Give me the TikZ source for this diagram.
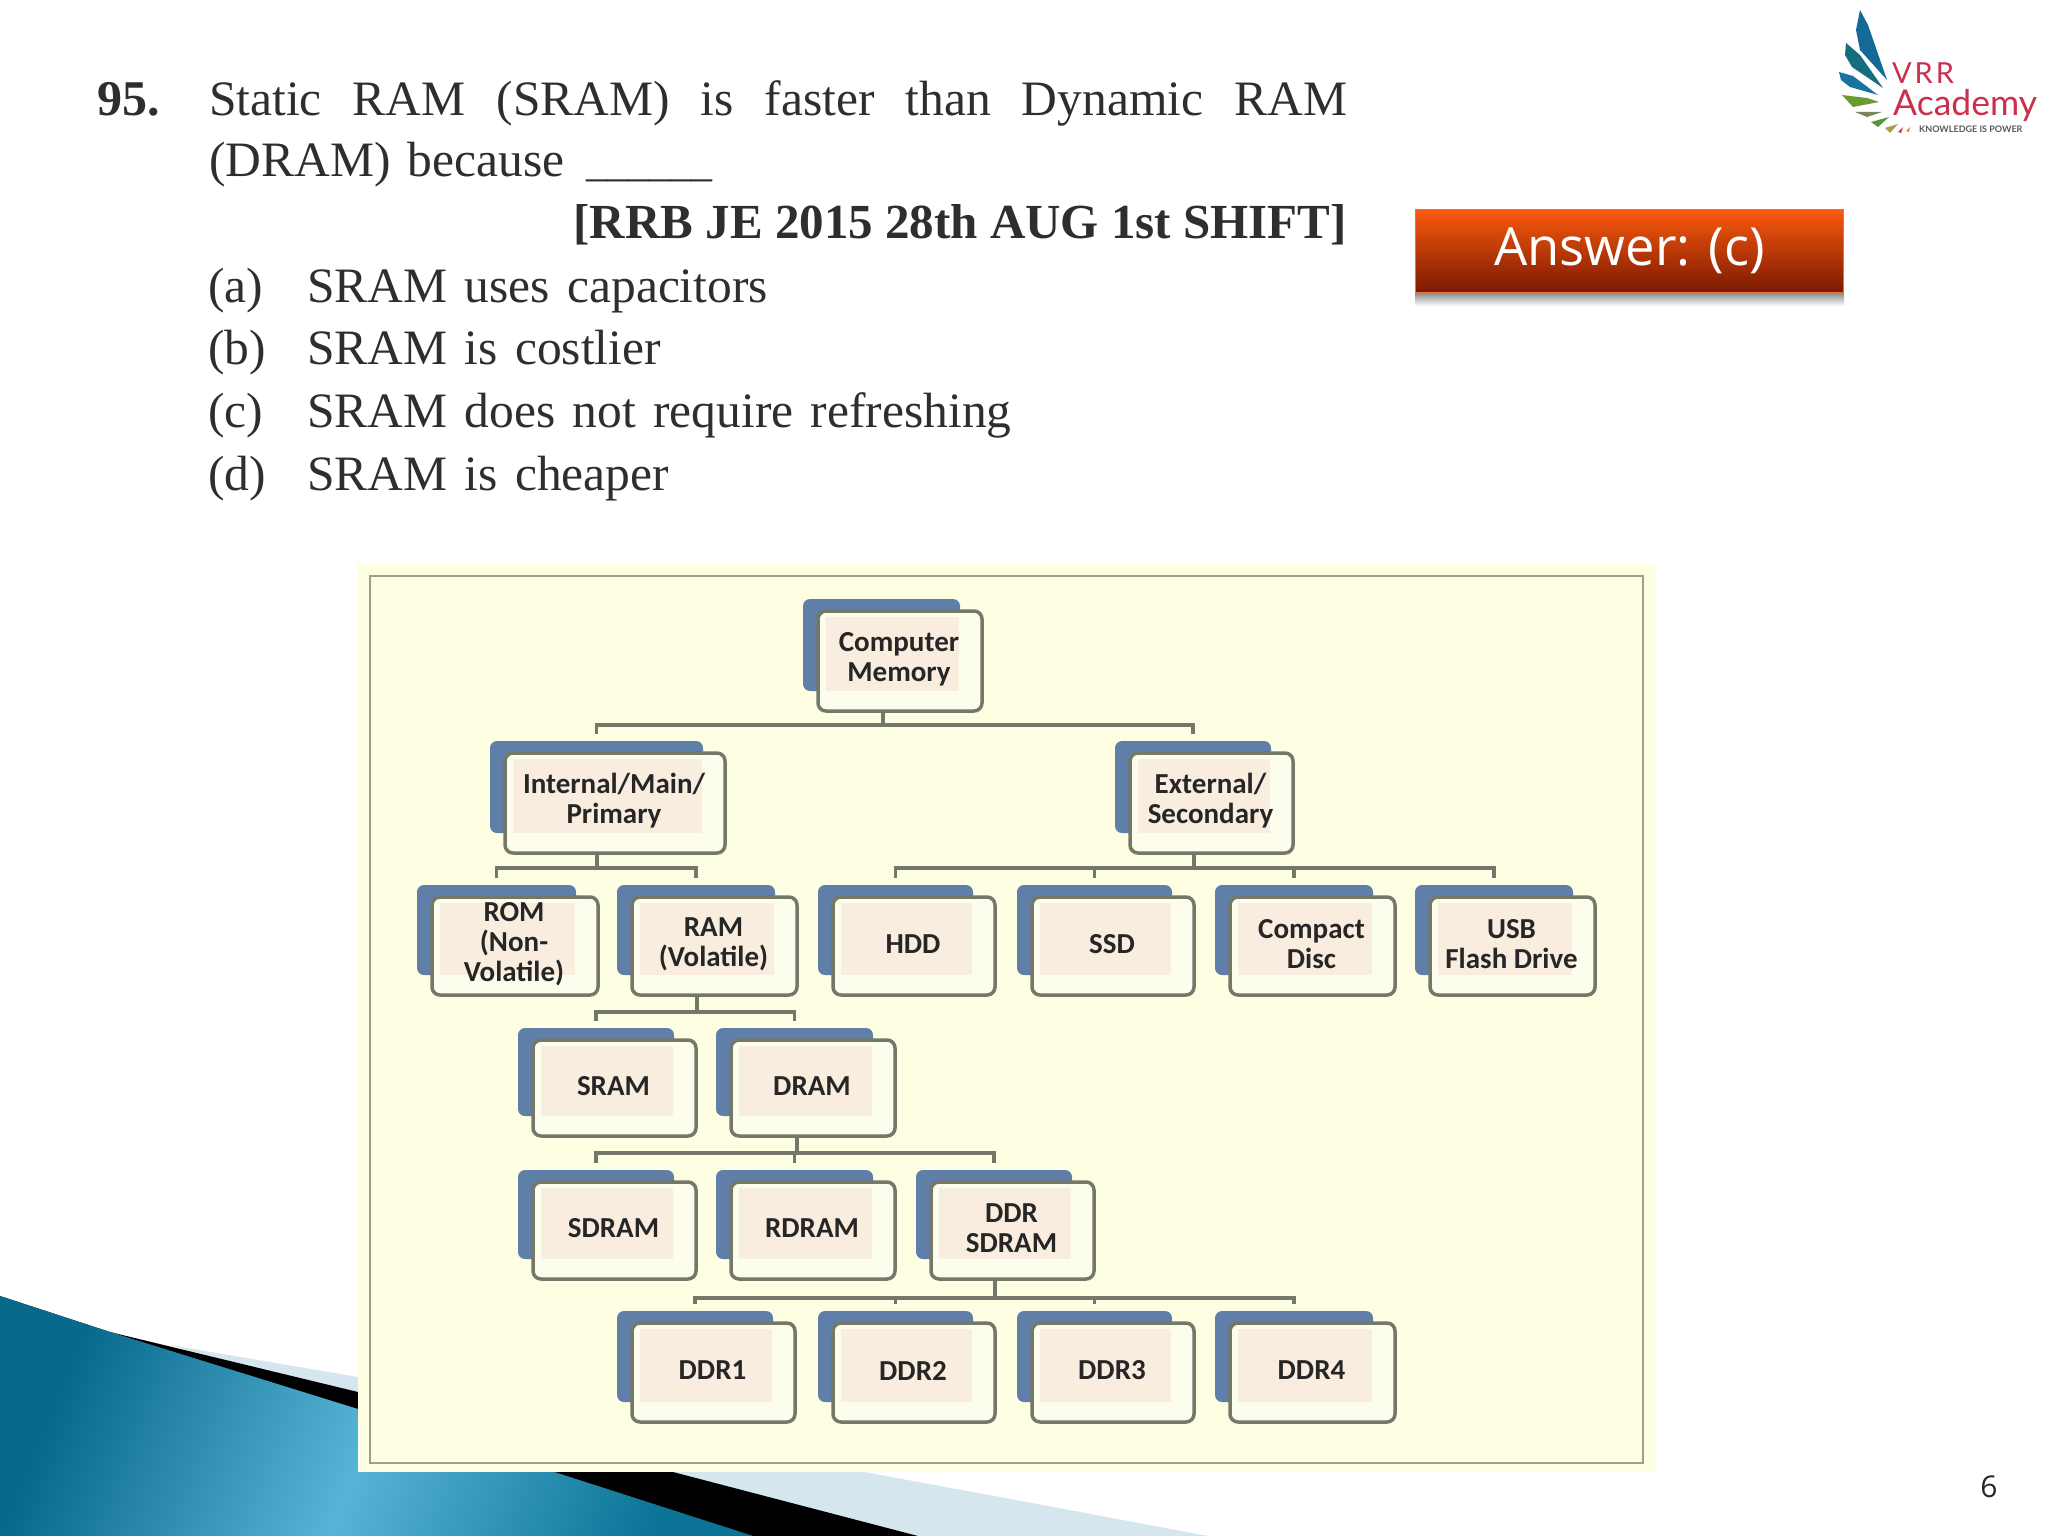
\documentclass[tikz,border=0pt]{standalone}
\usepackage{fontspec}
\setmainfont{Liberation Serif}
\newfontfamily\qfont[WordSpace=1.4]{Liberation Serif}
\newfontfamily\boxfont{Carlito}
\newfontfamily\ansfont{Open Sans}
\newfontfamily\logofont{Lato}
\newfontfamily\logospaced[LetterSpace=10]{Lato}
\definecolor{backblue}{HTML}{5F7FA8}
\definecolor{edgegray}{HTML}{747868}
\definecolor{peach}{HTML}{F9EDDF}
\definecolor{frontcol}{HTML}{FDFDEE}
\definecolor{panel}{HTML}{FEFEE2}
\definecolor{ink}{HTML}{2E2E2E}
\definecolor{logored}{HTML}{CC2F4C}
\definecolor{swlight}{RGB}{214,230,238}
\definecolor{swdark}{RGB}{8,105,140}
\definecolor{swmid}{RGB}{88,180,214}
\definecolor{swright}{RGB}{10,115,150}
\definecolor{ansedge}{RGB}{232,118,47}
\definecolor{anstop}{RGB}{250,90,14}
\definecolor{ansbot}{RGB}{122,24,0}
\definecolor{fa}{RGB}{20,105,150}
\definecolor{fb}{RGB}{20,110,125}
\definecolor{fc}{RGB}{25,115,160}
\definecolor{fd}{RGB}{105,155,50}
\definecolor{fe}{RGB}{120,135,95}
\definecolor{ff}{RGB}{90,150,60}
\definecolor{fg}{RGB}{170,160,70}
\definecolor{fh}{RGB}{220,130,50}
\tikzset{
  backbox/.style={fill=backblue,rounded corners=7pt,inner sep=0pt,outer sep=0pt},
  frontbox/.style={fill=frontcol,draw=edgegray,line width=3.5pt,rounded corners=8pt,inner sep=0pt,outer sep=0pt},
  peachbox/.style={fill=peach,inner sep=0pt,outer sep=0pt},
  boxtext/.style={align=center,text=black!85,font=\boxfont\bfseries\fontsize{29}{30}\selectfont,inner sep=0pt},
  conn/.style={draw=edgegray,line width=3.5pt},
  qtext/.style={anchor=base west,inner sep=0pt,text=ink,font=\qfont\fontsize{49.5}{52}\selectfont},
  qbold/.style={anchor=base west,inner sep=0pt,text=ink,font=\bfseries\fontsize{50}{52}\selectfont},
}
\newcommand{\membox}[6]{%
  \pgfmathsetmacro{\bw}{#4-#2-7}%
  \pgfmathsetmacro{\bh}{#5-#3-8}%
  \pgfmathsetmacro{\bx}{(#2-15+#4-22)/2}%
  \pgfmathsetmacro{\by}{(#3-12+#5-20)/2}%
  \node[backbox,minimum width=\bw pt,minimum height=\bh pt] (#1b) at (\bx,\by) {};
  \pgfmathsetmacro{\fw}{#4-#2}%
  \pgfmathsetmacro{\fh}{#5-#3}%
  \pgfmathsetmacro{\fx}{(#2+#4)/2}%
  \pgfmathsetmacro{\fy}{(#3+#5)/2}%
  \node[frontbox,minimum width=\fw pt,minimum height=\fh pt] (#1) at (\fx,\fy) {};
  \pgfmathsetmacro{\pw}{#4-#2-31}%
  \pgfmathsetmacro{\ph}{#5-#3-26}%
  \pgfmathsetmacro{\px}{(#2+8+#4-23)/2}%
  \pgfmathsetmacro{\py}{(#3+6+#5-20)/2}%
  \node[peachbox,minimum width=\pw pt,minimum height=\ph pt] (#1p) at (\px,\py) {};
  \node[boxtext] (#1t) at (\fx-1,\fy-2) {#6};
}
\begin{document}
\begin{tikzpicture}[x=1pt,y=-1pt]
\useasboundingbox[fill=white] (0,0) rectangle (2048,1536);
% swoosh
\fill[swlight] (170,1345) -- (358,1377) -- (864,1472) -- (1000,1497) -- (1208,1536) -- (753,1536) -- cycle;
\fill[black] (110,1332) -- (358,1392) -- (673,1472) -- (918,1536) -- (753,1536) -- (554,1472) -- cycle;
\fill[left color=swdark,right color=swright,middle color=swmid,shading angle=68]
  (0,1296) -- (110,1332) -- (358,1409) -- (554,1472) -- (753,1536) -- (0,1536) -- cycle;
% panel
\fill[panel] (358,563) rectangle (1656,1472);
\draw[draw=edgegray!70!panel,line width=2.5pt] (370,576) rectangle (1643,1463);
% question
\node[qbold] (qn) at (97,116) {95.};
\node[qtext] (q1) at (209,116) {\makebox[1138pt][s]{Static\hfill RAM\hfill (SRAM)\hfill is\hfill faster\hfill than\hfill Dynamic\hfill RAM}};
\node[qtext] (q2) at (209,176) {(DRAM) because};
\node[anchor=base west,inner sep=0pt,text=ink,font=\fontsize{42}{44}\selectfont] (q2u) at (586,176) {\_\_\_\_\_\_};
\node[anchor=base east,inner sep=0pt,text=ink,font=\bfseries\fontsize{49}{52}\selectfont] (q3) at (1347,238) {[RRB JE 2015 28th AUG 1st SHIFT]};
\node[qtext] (oa) at (208,302) {(a)};
\node[qtext] (ta) at (307,302) {SRAM uses capacitors};
\node[qtext] (ob) at (208,364) {(b)};
\node[qtext] (tb) at (307,364) {SRAM is costlier};
\node[qtext] (oc) at (208,427) {(c)};
\node[qtext] (tc) at (307,427) {SRAM does not require refreshing};
\node[qtext] (od) at (208,490) {(d)};
\node[qtext] (td) at (307,490) {SRAM is cheaper};
% answer
\fill[top color=black!45,bottom color=white] (1415,293) rectangle (1844,306);
\node[draw=ansedge,line width=1.5pt,top color=anstop,bottom color=ansbot,minimum width=428pt,minimum height=83pt,inner sep=0pt,text=white,font=\ansfont\fontsize{52.5}{56}\selectfont] (ans) at (1629.5,251) {Answer: (c)};
% logo
\fill[fa] (1860,10) -- (1868,25) -- (1887,80) -- (1860,50) -- (1856,30) -- cycle;
\fill[fb] (1846,43) -- (1860,55) -- (1883,88) -- (1852,67) -- (1845,55) -- cycle;
\fill[fc] (1839,72) -- (1853,76) -- (1878,95) -- (1850,87) -- (1841,80) -- cycle;
\fill[fd] (1842,95) -- (1867,98) -- (1879,102) -- (1853,107) -- cycle;
\fill[fe] (1855,112) -- (1882,112) -- (1867,117) -- cycle;
\fill[ff] (1871,122) -- (1889,117) -- (1878,127) -- cycle;
\fill[fg] (1885,128) -- (1898,124) -- (1890,133) -- cycle;
\fill[logored] (1898,132) -- (1903,127) -- (1901,133) -- cycle;
\fill[fh] (1906,131) -- (1910,127) -- (1909,132) -- cycle;
\node[anchor=base west,inner sep=0pt,text=logored,font=\logospaced\fontsize{29}{29}\selectfont] (lg1) at (1892,84) {VRR};
\node[anchor=base west,inner sep=0pt,text=logored,font=\logofont\fontsize{35.5}{36}\selectfont] (lg2) at (1893,116) {Academy};
\node[anchor=base west,inner sep=0pt,text=black!65,font=\logofont\bfseries\fontsize{9}{9}\selectfont] (lg3) at (1919,133) {KNOWLEDGE IS POWER};
% page number
\node[inner sep=0pt,text=black!85,font=\ansfont\fontsize{30}{32}\selectfont] (pg) at (1989,1487) {6};
% boxes
\membox{comp}{818}{611}{982}{711}{Computer\\Memory}
\membox{intm}{505}{753}{725}{853}{Internal/Main/\\Primary}
\membox{ext}{1130}{753}{1293}{853}{External/\\Secondary}
\membox{rom}{432}{897}{598}{995}{ROM\\(Non-\\Volatile)}
\membox{ram}{632}{897}{797}{995}{RAM\\(Volatile)}
\membox{hdd}{833}{897}{995}{995}{HDD}
\membox{ssd}{1032}{897}{1194}{995}{SSD}
\membox{cd}{1230}{897}{1395}{995}{Compact\\Disc}
\membox{usb}{1430}{897}{1595}{995}{USB\\Flash Drive}
\membox{sram}{533}{1040}{696}{1136}{SRAM}
\membox{dram}{731}{1040}{895}{1136}{DRAM}
\membox{sdram}{533}{1182}{696}{1279}{SDRAM}
\membox{rdram}{731}{1182}{895}{1279}{RDRAM}
\membox{ddrs}{931}{1182}{1094}{1279}{DDR\\SDRAM}
\membox{ddra}{632}{1323}{795}{1422}{DDR1}
\membox{ddrb}{833}{1323}{995}{1422}{DDR2}
\membox{ddrc}{1032}{1323}{1194}{1422}{DDR3}
\membox{ddrd}{1230}{1323}{1395}{1422}{DDR4}
% connectors
\coordinate (j1) at (883,725);
\coordinate (j2) at (597,868);
\coordinate (j3) at (1194,868);
\coordinate (j4) at (697,1012);
\coordinate (j5) at (797,1153);
\coordinate (j6) at (995,1298);
\draw[conn] (comp.south -| j1) -- (j1);
\foreach \c in {intm,ext} \draw[conn] (j1) -| ([yshift=7pt]\c b.north);
\draw[conn] (intm.south -| j2) -- (j2);
\foreach \c in {rom,ram} \draw[conn] (j2) -| ([yshift=7pt]\c b.north);
\draw[conn] (ext.south -| j3) -- (j3);
\foreach \c in {hdd,ssd,cd,usb} \draw[conn] (j3) -| ([yshift=7pt]\c b.north);
\draw[conn] (ram.south -| j4) -- (j4);
\foreach \c in {sram,dram} \draw[conn] (j4) -| ([yshift=7pt]\c b.north);
\draw[conn] (dram.south -| j5) -- (j5);
\foreach \c in {sdram,rdram,ddrs} \draw[conn] (j5) -| ([yshift=7pt]\c b.north);
\draw[conn] (ddrs.south -| j6) -- (j6);
\foreach \c in {ddra,ddrb,ddrc,ddrd} \draw[conn] (j6) -| ([yshift=7pt]\c b.north);
\end{tikzpicture}
\end{document}
